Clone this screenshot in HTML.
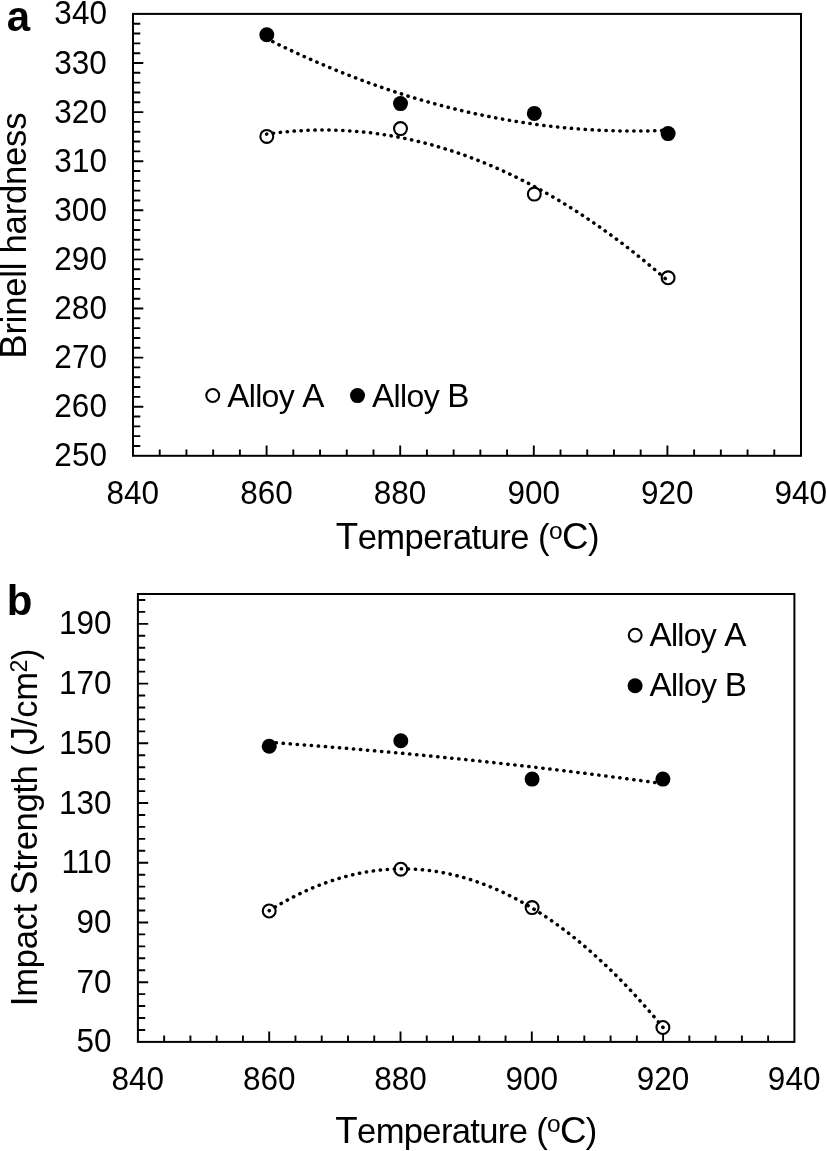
<!DOCTYPE html>
<html><head><meta charset="utf-8"><title>Brinell hardness and impact strength of Alloy A and Alloy B vs temperature</title>
<style>
html,body{margin:0;padding:0;background:#fff;}
body{width:827px;height:1151px;overflow:hidden;}
svg{display:block;}
text{font-family:"Liberation Sans", Arial, sans-serif;fill:#000;}
</style></head><body>
<svg width="827" height="1151" viewBox="0 0 827 1151">
<rect x="0" y="0" width="827" height="1151" fill="#fff"/>
<rect x="133" y="13.9" width="668" height="441.9" fill="none" stroke="#000" stroke-width="2.0"/>
<path d="M133 445.98h7.3 M133 436.16h7.3 M133 426.34h7.3 M133 416.52h7.3 M133 396.88h7.3 M133 387.06h7.3 M133 377.24h7.3 M133 367.42h7.3 M133 347.78h7.3 M133 337.96h7.3 M133 328.14h7.3 M133 318.32h7.3 M133 298.68h7.3 M133 288.86h7.3 M133 279.04h7.3 M133 269.22h7.3 M133 249.58h7.3 M133 239.76h7.3 M133 229.94h7.3 M133 220.12h7.3 M133 200.48h7.3 M133 190.66h7.3 M133 180.84h7.3 M133 171.02h7.3 M133 151.38h7.3 M133 141.56h7.3 M133 131.74h7.3 M133 121.92h7.3 M133 102.28h7.3 M133 92.46h7.3 M133 82.64h7.3 M133 72.82h7.3 M133 53.18h7.3 M133 43.36h7.3 M133 33.54h7.3 M133 23.72h7.3 M133 406.7h10.3 M133 357.6h10.3 M133 308.5h10.3 M133 259.4h10.3 M133 210.3h10.3 M133 161.2h10.3 M133 112.1h10.3 M133 63h10.3 M159.72 455.8v-6.3 M186.44 455.8v-6.3 M213.16 455.8v-6.3 M239.88 455.8v-6.3 M266.6 455.8v-10.3 M293.32 455.8v-6.3 M320.04 455.8v-6.3 M346.76 455.8v-6.3 M373.48 455.8v-6.3 M400.2 455.8v-10.3 M426.92 455.8v-6.3 M453.64 455.8v-6.3 M480.36 455.8v-6.3 M507.08 455.8v-6.3 M533.8 455.8v-10.3 M560.52 455.8v-6.3 M587.24 455.8v-6.3 M613.96 455.8v-6.3 M640.68 455.8v-6.3 M667.4 455.8v-10.3 M694.12 455.8v-6.3 M720.84 455.8v-6.3 M747.56 455.8v-6.3 M774.28 455.8v-6.3" stroke="#000" stroke-width="1.9" fill="none"/>
<text id="ayl250" transform="translate(106.92,466.1) scale(1,1.0500)" font-size="31.5" text-anchor="end">250</text>
<text id="ayl260" transform="translate(106.91,416.9) scale(1,1.0500)" font-size="31.5" text-anchor="end">260</text>
<text id="ayl270" transform="translate(106.92,367.7) scale(1,1.0500)" font-size="31.5" text-anchor="end">270</text>
<text id="ayl280" transform="translate(106.91,318.5) scale(1,1.0500)" font-size="31.5" text-anchor="end">280</text>
<text id="ayl290" transform="translate(106.9,270.3) scale(1,1.0500)" font-size="31.5" text-anchor="end">290</text>
<text id="ayl300" transform="translate(106.91,221.33) scale(1,1.0500)" font-size="31.5" text-anchor="end">300</text>
<text id="ayl310" transform="translate(106.92,171.9) scale(1,1.0500)" font-size="31.5" text-anchor="end">310</text>
<text id="ayl320" transform="translate(106.9,122.7) scale(1,1.0500)" font-size="31.5" text-anchor="end">320</text>
<text id="ayl330" transform="translate(106.89,73.67) scale(1,1.0500)" font-size="31.5" text-anchor="end">330</text>
<text id="ayl340" transform="translate(106.92,24.3) scale(1,1.0500)" font-size="31.5" text-anchor="end">340</text>
<text id="axl840" transform="translate(132.85,504.4) scale(1,1.0500)" font-size="31.5" text-anchor="middle">840</text>
<text id="axl860" transform="translate(266.45,503.81) scale(1,1.0500)" font-size="31.5" text-anchor="middle">860</text>
<text id="axl880" transform="translate(400.12,503.68) scale(1,1.0500)" font-size="31.5" text-anchor="middle">880</text>
<text id="axl900" transform="translate(533.72,504.42) scale(1,1.0500)" font-size="31.5" text-anchor="middle">900</text>
<text id="axl920" transform="translate(667.25,504.4) scale(1,1.0500)" font-size="31.5" text-anchor="middle">920</text>
<text id="axl940" transform="translate(800.87,504.4) scale(1,1.0500)" font-size="31.5" text-anchor="middle">940</text>
<circle cx="266.8" cy="136.4" r="6.45" fill="#fff" stroke="#000" stroke-width="2.1"/>
<circle cx="400.5" cy="128.6" r="6.45" fill="#fff" stroke="#000" stroke-width="2.1"/>
<circle cx="534.3" cy="194.1" r="6.45" fill="#fff" stroke="#000" stroke-width="2.1"/>
<circle cx="668.1" cy="277.8" r="6.45" fill="#fff" stroke="#000" stroke-width="2.1"/>
<circle cx="266.8" cy="34.7" r="7.5"/>
<circle cx="400.5" cy="103.6" r="7.5"/>
<circle cx="534.3" cy="113.4" r="7.5"/>
<circle cx="668.1" cy="133.6" r="7.5"/>
<polyline points="266.6,134.12 273.28,133.21 279.96,132.41 286.64,131.73 293.32,131.16 300,130.71 306.68,130.36 313.36,130.14 320.04,130.02 326.72,130.02 333.4,130.13 340.08,130.36 346.76,130.7 353.44,131.15 360.12,131.71 366.8,132.39 373.48,133.18 380.16,134.09 386.84,135.11 393.52,136.24 400.2,137.49 406.88,138.85 413.56,140.32 420.24,141.91 426.92,143.61 433.6,145.42 440.28,147.35 446.96,149.39 453.64,151.55 460.32,153.81 467,156.2 473.68,158.69 480.36,161.3 487.04,164.02 493.72,166.85 500.4,169.8 507.08,172.87 513.76,176.04 520.44,179.33 527.12,182.73 533.8,186.25 540.48,189.88 547.16,193.62 553.84,197.48 560.52,201.45 567.2,205.53 573.88,209.73 580.56,214.04 587.24,218.46 593.92,223 600.6,227.65 607.28,232.41 613.96,237.29 620.64,242.28 627.32,247.38 634,252.6 640.68,257.93 647.36,263.38 654.04,268.94 660.72,274.61 667.4,280.39" fill="none" stroke="#000" stroke-width="3.5" stroke-dasharray="0.3 6.650" stroke-dashoffset="0.15" stroke-linecap="round"/>
<polyline points="266.6,38.63 273.28,41.95 279.96,45.22 286.64,48.42 293.32,51.56 300,54.64 306.68,57.66 313.36,60.62 320.04,63.52 326.72,66.36 333.4,69.14 340.08,71.85 346.76,74.51 353.44,77.1 360.12,79.63 366.8,82.11 373.48,84.52 380.16,86.87 386.84,89.16 393.52,91.39 400.2,93.55 406.88,95.66 413.56,97.71 420.24,99.69 426.92,101.62 433.6,103.48 440.28,105.28 446.96,107.02 453.64,108.7 460.32,110.32 467,111.88 473.68,113.38 480.36,114.82 487.04,116.19 493.72,117.51 500.4,118.76 507.08,119.96 513.76,121.09 520.44,122.16 527.12,123.17 533.8,124.12 540.48,125.01 547.16,125.84 553.84,126.6 560.52,127.31 567.2,127.95 573.88,128.54 580.56,129.06 587.24,129.52 593.92,129.93 600.6,130.27 607.28,130.55 613.96,130.77 620.64,130.92 627.32,131.02 634,131.06 640.68,131.03 647.36,130.95 654.04,130.8 660.72,130.59 667.4,130.32" fill="none" stroke="#000" stroke-width="3.5" stroke-dasharray="0.3 6.650" stroke-dashoffset="0.15" stroke-linecap="round"/>
<text id="apanel" transform="translate(6.64,30.96) scale(1,1.0300)" font-size="42" font-weight="bold">a</text>
<text id="aytitle" transform="translate(26.2,358.87) rotate(-90) scale(1,1.0000)" font-size="34.6" textLength="246.30" lengthAdjust="spacing"><tspan font-size="36.68">B</tspan>rinell hardness</text>
<text id="axtitle" transform="translate(335.83,549.4) scale(1,1.0000)" font-size="34.6" textLength="263.61" lengthAdjust="spacing"><tspan font-size="36.68">T</tspan>emperature (<tspan font-size="24.5" dy="-10.7">o</tspan><tspan dy="10.7"><tspan font-size="36.68">C</tspan>)</tspan></text>
<circle cx="212.75" cy="395.5" r="6.45" fill="#fff" stroke="#000" stroke-width="2.1"/>
<text id="aleg0" transform="translate(227.13,407.2) scale(1,1.0000)" font-size="32" textLength="97.38" lengthAdjust="spacing"><tspan font-size="33.28">A</tspan>lloy <tspan font-size="33.28">A</tspan></text>
<circle cx="357.5" cy="395.6" r="7.5"/>
<text id="aleg1" transform="translate(371.99,407.2) scale(1,1.0000)" font-size="32" textLength="97.52" lengthAdjust="spacing"><tspan font-size="33.28">A</tspan>lloy <tspan font-size="33.28">B</tspan></text>
<rect x="137.9" y="594" width="656.5" height="447.9" fill="none" stroke="#000" stroke-width="2.0"/>
<path d="M137.9 1029.96h7.3 M137.9 1018.01h7.3 M137.9 1006.07h7.3 M137.9 994.12h7.3 M137.9 970.24h7.3 M137.9 958.29h7.3 M137.9 946.35h7.3 M137.9 934.4h7.3 M137.9 910.52h7.3 M137.9 898.57h7.3 M137.9 886.63h7.3 M137.9 874.68h7.3 M137.9 850.8h7.3 M137.9 838.85h7.3 M137.9 826.91h7.3 M137.9 814.96h7.3 M137.9 791.08h7.3 M137.9 779.13h7.3 M137.9 767.19h7.3 M137.9 755.24h7.3 M137.9 731.36h7.3 M137.9 719.41h7.3 M137.9 707.47h7.3 M137.9 695.52h7.3 M137.9 671.64h7.3 M137.9 659.69h7.3 M137.9 647.75h7.3 M137.9 635.8h7.3 M137.9 611.92h7.3 M137.9 599.97h7.3 M137.9 982.18h10.3 M137.9 922.46h10.3 M137.9 862.74h10.3 M137.9 803.02h10.3 M137.9 743.3h10.3 M137.9 683.58h10.3 M137.9 623.86h10.3 M164.16 1041.9v-6.3 M190.42 1041.9v-6.3 M216.68 1041.9v-6.3 M242.94 1041.9v-6.3 M269.2 1041.9v-10.3 M295.46 1041.9v-6.3 M321.72 1041.9v-6.3 M347.98 1041.9v-6.3 M374.24 1041.9v-6.3 M400.5 1041.9v-10.3 M426.76 1041.9v-6.3 M453.02 1041.9v-6.3 M479.28 1041.9v-6.3 M505.54 1041.9v-6.3 M531.8 1041.9v-10.3 M558.06 1041.9v-6.3 M584.32 1041.9v-6.3 M610.58 1041.9v-6.3 M636.84 1041.9v-6.3 M663.1 1041.9v-10.3 M689.36 1041.9v-6.3 M715.62 1041.9v-6.3 M741.88 1041.9v-6.3 M768.14 1041.9v-6.3" stroke="#000" stroke-width="1.9" fill="none"/>
<text id="byl50" transform="translate(111.57,1051.57) scale(1,1.0500)" font-size="31.5" text-anchor="end">50</text>
<text id="byl70" transform="translate(111.59,992.66) scale(1,1.0500)" font-size="31.5" text-anchor="end">70</text>
<text id="byl90" transform="translate(111.55,933.04) scale(1,1.0500)" font-size="31.5" text-anchor="end">90</text>
<text id="byl110" transform="translate(111.59,873.38) scale(1,1.0500)" font-size="31.5" text-anchor="end">110</text>
<text id="byl130" transform="translate(111.59,813.74) scale(1,1.0500)" font-size="31.5" text-anchor="end">130</text>
<text id="byl150" transform="translate(111.59,754.1) scale(1,1.0500)" font-size="31.5" text-anchor="end">150</text>
<text id="byl170" transform="translate(111.59,694.46) scale(1,1.0500)" font-size="31.5" text-anchor="end">170</text>
<text id="byl190" transform="translate(111.59,633.82) scale(1,1.0500)" font-size="31.5" text-anchor="end">190</text>
<text id="bxl840" transform="translate(137.83,1090.2) scale(1,1.0500)" font-size="31.5" text-anchor="middle">840</text>
<text id="bxl860" transform="translate(269.19,1090.48) scale(1,1.0500)" font-size="31.5" text-anchor="middle">860</text>
<text id="bxl880" transform="translate(400.5,1090.48) scale(1,1.0500)" font-size="31.5" text-anchor="middle">880</text>
<text id="bxl900" transform="translate(531.71,1090.22) scale(1,1.0500)" font-size="31.5" text-anchor="middle">900</text>
<text id="bxl920" transform="translate(663.05,1090.2) scale(1,1.0500)" font-size="31.5" text-anchor="middle">920</text>
<text id="bxl940" transform="translate(794.14,1090.2) scale(1,1.0500)" font-size="31.5" text-anchor="middle">940</text>
<circle cx="269.2" cy="911" r="6.45" fill="#fff" stroke="#000" stroke-width="2.1"/>
<circle cx="400.8" cy="869.2" r="6.45" fill="#fff" stroke="#000" stroke-width="2.1"/>
<circle cx="532.1" cy="907.6" r="6.45" fill="#fff" stroke="#000" stroke-width="2.1"/>
<circle cx="662.9" cy="1027.5" r="6.45" fill="#fff" stroke="#000" stroke-width="2.1"/>
<circle cx="269.2" cy="746.3" r="7.5"/>
<circle cx="400.8" cy="740.8" r="7.5"/>
<circle cx="532.1" cy="779.1" r="7.5"/>
<circle cx="662.9" cy="779.1" r="7.5"/>
<polyline points="269.2,910.68 275.76,906.67 282.33,902.86 288.89,899.26 295.46,895.85 302.02,892.65 308.59,889.65 315.15,886.86 321.72,884.26 328.28,881.87 334.85,879.68 341.41,877.69 347.98,875.9 354.54,874.32 361.11,872.93 367.68,871.75 374.24,870.77 380.81,869.99 387.37,869.42 393.94,869.04 400.5,868.87 407.06,868.9 413.63,869.13 420.19,869.57 426.76,870.2 433.32,871.04 439.89,872.08 446.46,873.32 453.02,874.76 459.59,876.41 466.15,878.26 472.72,880.31 479.28,882.56 485.85,885.01 492.41,887.66 498.98,890.52 505.54,893.58 512.11,896.84 518.67,900.3 525.24,903.96 531.8,907.83 538.37,911.9 544.93,916.17 551.5,920.64 558.06,925.31 564.62,930.19 571.19,935.27 577.75,940.55 584.32,946.03 590.88,951.71 597.45,957.6 604.01,963.68 610.58,969.97 617.14,976.46 623.71,983.16 630.28,990.05 636.84,997.15 643.4,1004.45 649.97,1011.95 656.54,1019.65 663.1,1027.55" fill="none" stroke="#000" stroke-width="3.5" stroke-dasharray="0.3 6.724" stroke-dashoffset="0.15" stroke-linecap="round"/>
<polyline points="269.2,742.33 275.76,742.8 282.33,743.28 288.89,743.76 295.46,744.25 302.02,744.75 308.59,745.26 315.15,745.77 321.72,746.3 328.28,746.83 334.85,747.36 341.41,747.91 347.98,748.46 354.54,749.02 361.11,749.58 367.68,750.16 374.24,750.74 380.81,751.33 387.37,751.92 393.94,752.53 400.5,753.14 407.06,753.76 413.63,754.38 420.19,755.01 426.76,755.66 433.32,756.3 439.89,756.96 446.46,757.62 453.02,758.29 459.59,758.97 466.15,759.66 472.72,760.35 479.28,761.05 485.85,761.76 492.41,762.47 498.98,763.19 505.54,763.92 512.11,764.66 518.67,765.4 525.24,766.16 531.8,766.92 538.37,767.68 544.93,768.46 551.5,769.24 558.06,770.03 564.62,770.82 571.19,771.63 577.75,772.44 584.32,773.26 590.88,774.08 597.45,774.92 604.01,775.76 610.58,776.61 617.14,777.46 623.71,778.33 630.28,779.2 636.84,780.08 643.4,780.96 649.97,781.85 656.54,782.75 663.1,783.66" fill="none" stroke="#000" stroke-width="3.5" stroke-dasharray="0.3 6.750" stroke-dashoffset="0.15" stroke-linecap="round"/>
<text id="bpanel" transform="translate(6.79,615.3) scale(1,1.0300)" font-size="42" font-weight="bold">b</text>
<text id="bytitle" transform="translate(36.6,1006.47) rotate(-90) scale(1,1.0000)" font-size="34.6" textLength="358.06" lengthAdjust="spacing"><tspan font-size="36.68">I</tspan>mpact <tspan font-size="36.68">S</tspan>trength (<tspan font-size="36.68">J</tspan>/cm<tspan font-size="23" dy="-9.6">2</tspan><tspan dy="9.6">)</tspan></text>
<text id="bxtitle" transform="translate(335.36,1143) scale(1,1.0000)" font-size="34.6" textLength="261.95" lengthAdjust="spacing"><tspan font-size="36.68">T</tspan>emperature (<tspan font-size="24.5" dy="-10.7">o</tspan><tspan dy="10.7"><tspan font-size="36.68">C</tspan>)</tspan></text>
<circle cx="635.2" cy="635.2" r="6.45" fill="#fff" stroke="#000" stroke-width="2.1"/>
<text id="bleg0" transform="translate(649.59,646.2) scale(1,1.0000)" font-size="32" textLength="96.76" lengthAdjust="spacing"><tspan font-size="33.28">A</tspan>lloy <tspan font-size="33.28">A</tspan></text>
<circle cx="635.1" cy="685.8" r="7.5"/>
<text id="bleg1" transform="translate(649.57,696) scale(1,1.0000)" font-size="32" textLength="97.27" lengthAdjust="spacing"><tspan font-size="33.28">A</tspan>lloy <tspan font-size="33.28">B</tspan></text>
</svg></body></html>
